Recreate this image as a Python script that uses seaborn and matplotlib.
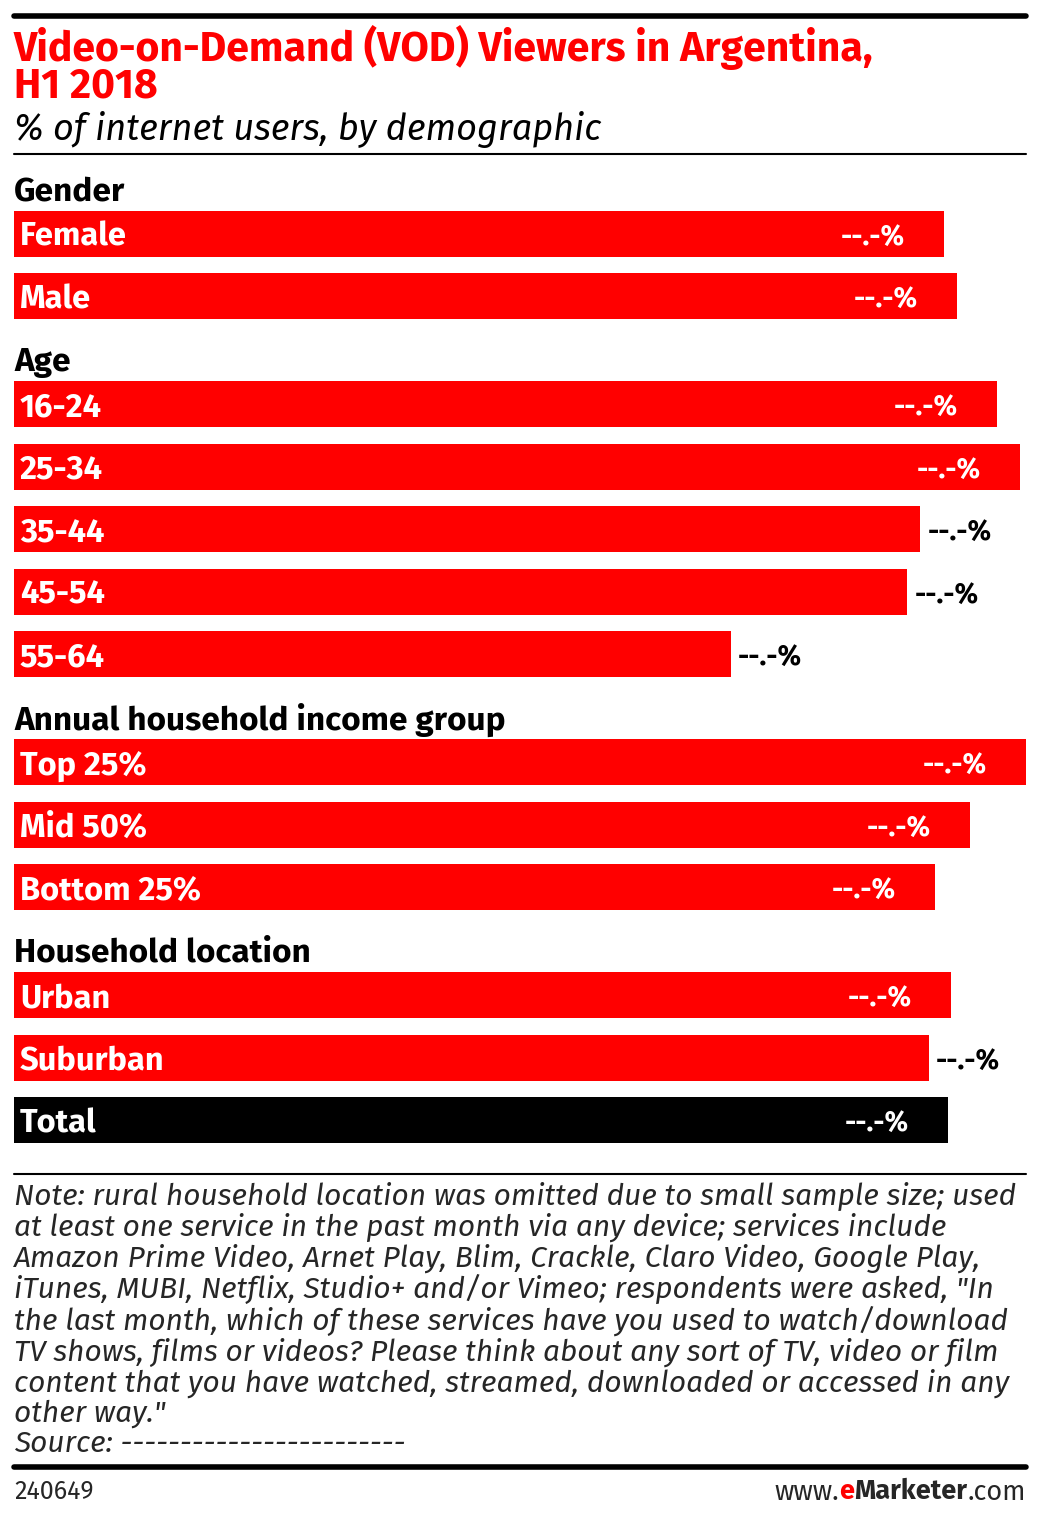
import matplotlib
matplotlib.use("Agg")
import matplotlib.pyplot as plt
import pandas as pd
import seaborn as sns

# chart data
groups = ["Gender", "Age", "Annual household income group", "Household location"]
group_labels = [
    ["Female", "Male"],
    ["16-24", "25-34", "35-44", "45-54", "55-64"],
    ["Top 25%", "Mid 50%", "Bottom 25%"],
    ["Urban", "Suburban", "Total"],
]
group_values = [
    [64.3, 65.2],
    [68.0, 69.6, 62.7, 61.8, 49.6],
    [70.0, 66.1, 63.7],
    [64.8, 63.3, 64.6],
]
# value label drawn outside the bar
outside = ["35-44", "45-54", "55-64", "Suburban"]
value_text = "--.-%"

RED = "#ff0000"
W, H = 1039, 1516
FONT = ["Fira Sans", "DejaVu Sans"]
COND = ["Fira Sans Condensed", "DejaVu Sans"]

sns.set_theme(style="white")
plt.rcParams["font.family"] = FONT

fig = plt.figure(figsize=(W / 100, H / 100), dpi=100)


def fx(px):
    return px / W


def fy(py):
    return 1 - py / H


# bar area: x from 14 px to 1026 px, y in pixel units
x0, x1 = 14, 1026
ax = fig.add_axes([fx(x0), 0, fx(x1 - x0), 1])

rows = []
headers = []
y = 188.0
for g, labs, vals in zip(groups, group_labels, group_values):
    headers.append((g, y))
    y += 45.5
    for lab, v in zip(labs, vals):
        rows.append({"label": lab, "value": v, "ypos": y})
        y += 62.5
df = pd.DataFrame(rows)
palette = {lab: ("black" if lab == "Total" else RED) for lab in df["label"]}

sns.barplot(data=df, x="value", y="ypos", hue="label", palette=palette,
            orient="h", native_scale=True, dodge=False, legend=False,
            width=46 / 62.5, linewidth=0, saturation=1, ax=ax)

vmax = max(max(v) for v in group_values)
ax.set_xlim(0, vmax)
ax.set_ylim(H, 0)
ax.axis("off")

for _, r in df.iterrows():
    ax.annotate(r["label"], xy=(0, r["ypos"]), xytext=(6 * 0.72, 0),
                textcoords="offset points", ha="left", va="center_baseline",
                color="white", fontsize=23.5, fontweight="bold")
    if r["label"] in outside:
        ax.annotate(value_text, xy=(r["value"], r["ypos"]), xytext=(7 * 0.72, 0),
                    textcoords="offset points", ha="left", va="center_baseline",
                    color="black", fontsize=21.5, fontweight="bold", family=COND)
    else:
        ax.annotate(value_text, xy=(r["value"], r["ypos"]), xytext=(-39 * 0.72, 0),
                    textcoords="offset points", ha="right", va="center_baseline",
                    color="white", fontsize=21.5, fontweight="bold", family=COND)

for g, hy in headers:
    ax.text(0, hy, g, ha="left", va="center_baseline", color="black",
            fontsize=24, fontweight="bold")

# title block
fig.text(fx(14), fy(43), "Video-on-Demand (VOD) Viewers in Argentina,",
         color=RED, fontsize=29.5, fontweight="bold", va="center_baseline")
fig.text(fx(14), fy(82), "H1 2018", color=RED, fontsize=29.5,
         fontweight="bold", va="center_baseline")
fig.text(fx(14), fy(126), "% of internet users, by demographic", color="black",
         fontsize=26, style="italic", va="center_baseline")

# rules
def hline(py, lw):
    fig.add_artist(plt.Line2D([fx(14), fx(1026)], [fy(py), fy(py)],
                              color="black", lw=lw))

hline(16, 4)
hline(154, 1.5)
hline(1174, 1.5)
hline(1467, 4)

note = ("Note: rural household location was omitted due to small sample size; used\n"
        "at least one service in the past month via any device; services include\n"
        "Amazon Prime Video, Arnet Play, Blim, Crackle, Claro Video, Google Play,\n"
        "iTunes, MUBI, Netflix, Studio+ and/or Vimeo; respondents were asked, \"In\n"
        "the last month, which of these services have you used to watch/download\n"
        "TV shows, films or videos? Please think about any sort of TV, video or film\n"
        "content that you have watched, streamed, downloaded or accessed in any\n"
        "other way.\"\n"
        "Source: ------------------------")
fig.text(fx(14), fy(1182), note, fontsize=21.5, style="italic", va="top",
         ha="left", linespacing=1.065)

# footer
fig.text(fx(14), fy(1489), "240649", fontsize=18, va="center_baseline")
com = fig.text(fx(1026), fy(1489), ".com", fontsize=19.5, va="center_baseline", ha="right")
mk = fig.text(0, 0, "Marketer", fontsize=19.5, fontweight="bold", ha="right", va="center_baseline")
e = fig.text(0, 0, "e", fontsize=19.5, fontweight="bold", color=RED, ha="right", va="center_baseline")
www = fig.text(0, 0, "www.", fontsize=19.5, ha="right", va="center_baseline")

fig.canvas.draw()
inv = fig.transFigure.inverted()
x_right = com.get_window_extent().x0
base_y = fig.transFigure.transform((0, fy(1489)))[1]
for t in [mk, e, www]:
    t.set_position(inv.transform((x_right, base_y)))
    fig.canvas.draw()
    x_right = t.get_window_extent().x0

fig.savefig("out.png", dpi=100)
